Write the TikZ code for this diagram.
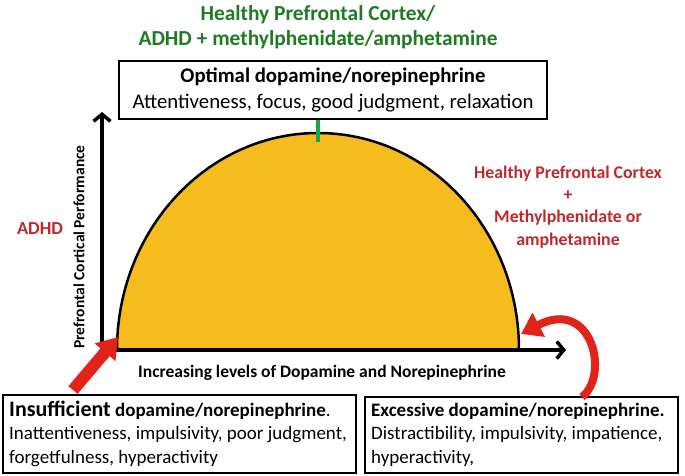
\documentclass[tikz,border=0pt]{standalone}
\usepackage{fontspec}
\setmainfont{Carlito}
\usetikzlibrary{positioning,arrows.meta}
\definecolor{adgreen}{HTML}{1E7B22}
\definecolor{adtick}{HTML}{1AA64A}
\definecolor{adred}{HTML}{C0282D}
\definecolor{adarrow}{HTML}{E2231A}
\definecolor{adorange}{HTML}{F6BC1E}

\begin{document}
\begin{tikzpicture}[x=1pt, y=1pt,
    ttl/.style={font=\fontsize{21.4}{24}\selectfont\bfseries, text=adgreen},
    redtxt/.style={font=\fontsize{17.8}{22.3}\selectfont\bfseries, text=adred, align=center},
    box/.style={draw=black, line width=1.5pt, fill=white, inner sep=0pt},
    boxtxt/.style={anchor=west, align=left, inner sep=0pt, font=\fontsize{19}{23.5}\selectfont},
    axlbl/.style={font=\fontsize{15.5}{18}\selectfont\bfseries},
    axis/.style={line width=3.5pt, -{Straight Barb[length=7pt, width=17pt]}},
    redarr/.style={draw=adarrow, -{Triangle[length=20pt, width=26pt]}}
  ]
  \useasboundingbox (0,0) rectangle (685,475);
  % ------------- title -------------
  \node[ttl] (t1) at (318,460) {Healthy Prefrontal Cortex/};
  \node[ttl] (t2) at (318,435) {ADHD + methylphenidate/amphetamine};
  % ------------- curve and axes -------------
  \coordinate (origin) at (100,125);
  \coordinate (ytip) at (102,363);
  \coordinate (xtip) at (566,125);
  \coordinate (peak) at (318,333);
  \draw[fill=adorange, line width=2.5pt] (117,125) arc[start angle=180, end angle=0, x radius=201, y radius=217] -- cycle;
  \draw[axis] (origin) -- (xtip);
  \draw[axis] ([yshift=-2pt]origin -| ytip) -- (ytip);
  \node[axlbl, rotate=90] (ylbl) at (79,228) {Prefrontal Cortical Performance};
  \node[axlbl, font=\fontsize{17.5}{20}\selectfont\bfseries] (xlbl) at (322,102) {Increasing levels of Dopamine and Norepinephrine};
  % ------------- optimal -------------
  \node[box, minimum width=428, minimum height=58, align=center,
        font=\fontsize{20.8}{26}\selectfont] (opt) at (333,385)
    {\textbf{Optimal dopamine/norepinephrine}\\Attentiveness, focus, good judgment, relaxation};
  \draw[adtick, line width=4.5pt] (opt.south -| peak) -- (peak);
  % ------------- side labels -------------
  \node[redtxt, font=\fontsize{18.4}{20}\selectfont\bfseries] (adhd) at (40,246) {ADHD};
  \node[redtxt] (healthy) at (568,268)
    {Healthy Prefrontal Cortex\\+\\Methylphenidate or\\amphetamine};
  % ------------- low and high -------------
  \node[box, anchor=north west, minimum width=353, minimum height=78] (low) at (2,81) {};
  \node[boxtxt] (lowtxt) at ([xshift=7pt]low.west)
    {\textbf{\fontsize{22}{23.5}\selectfont Insufficient} \textbf{dopamine/norepinephrine}.\\
     Inattentiveness, impulsivity, poor judgment,\\forgetfulness, hyperactivity};
  \node[box, anchor=north west, minimum width=313, minimum height=76] (high) at (364,79) {};
  \node[boxtxt] (hightxt) at ([xshift=7pt]high.west)
    {\textbf{Excessive dopamine/norepinephrine.}\\
     Distractibility, impulsivity, impatience,\\hyperactivity,};
  % ------------- red arrows -------------
  \coordinate (lowtail) at (73,85);
  \coordinate (lowtip) at (118,138);
  \coordinate (hightail) at (582,78);
  \coordinate (hightip) at (521,141);
  \draw[redarr, line width=12pt] (lowtail) -- (lowtip);
  \draw[redarr, line width=8pt] (hightail) .. controls (610,100) and (592,178) .. (hightip);
\end{tikzpicture}
\end{document}
